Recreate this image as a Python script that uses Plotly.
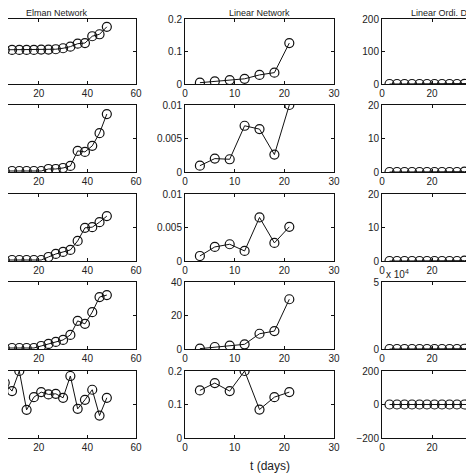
import plotly.graph_objects as go

W = H = 474
OFF = 8  # page body margin offset
x_left = [3, 6, 9, 12, 15, 18, 21, 24, 27, 30, 33, 36, 39, 42, 45, 48]
x_mid = [3, 6, 9, 12, 15, 18, 21]
x_right = [3, 6, 9, 12, 15, 18, 21, 24, 27, 30, 33, 36, 39, 42, 45, 48]

elman = [
    [1.05, 1.05, 1.05, 1.05, 1.05, 1.05, 1.06, 1.06, 1.07, 1.10, 1.15, 1.24, 1.26, 1.47, 1.53, 1.76],
    [0.03, 0.03, 0.03, 0.03, 0.03, 0.03, 0.03, 0.09, 0.09, 0.12, 0.18, 0.63, 0.60, 0.78, 1.16, 1.73],
    [0.03, 0.03, 0.03, 0.03, 0.03, 0.03, 0.03, 0.12, 0.21, 0.27, 0.33, 0.60, 0.99, 1.01, 1.16, 1.34],
    [0.03, 0.03, 0.03, 0.03, 0.03, 0.03, 0.09, 0.15, 0.21, 0.27, 0.42, 0.84, 0.75, 1.10, 1.55, 1.61],
    [1.30, 1.65, 1.40, 2.00, 0.84, 1.22, 1.37, 1.30, 1.32, 1.20, 1.85, 0.87, 1.14, 1.44, 0.67, 1.20],
]
linear = [
    [0.004, 0.008, 0.012, 0.016, 0.028, 0.035, 0.126],
    [0.00094, 0.0020, 0.0019, 0.0069, 0.0064, 0.0026, 0.0100],
    [0.00075, 0.0021, 0.0025, 0.0015, 0.0065, 0.0027, 0.0051],
    [0.2, 1.2, 2.0, 2.8, 9.1, 10.7, 29.7],
    [0.142, 0.164, 0.140, 0.200, 0.085, 0.122, 0.137],
]
ode = [
    [0, 0, 0, 0, 0, 0, 0, 0, 0, 0, 0.5, 1.5, 4, 10, 25, 60],
    [0, 0, 0, 0, 0, 0, 0, 0, 0, 0, 0.1, 0.4, 1, 2, 4, 8],
    [0, 0, 0, 0, 0, 0, 0, 0, 0, 0, 0.1, 0.4, 1, 2, 4, 8],
    [0, 0, 0, 0, 0, 0, 0, 0, 0, 0, 0.02, 0.1, 0.3, 0.8, 1.5, 3],
    [0, 0, 0, 0, 0, 0, 0, 0, 0, 0, 0, 0, 0, 0, 0, 0],
]
left_ranges = [[0, 2]] * 5
mid_ranges = [[0, 0.2], [0, 0.01], [0, 0.01], [0, 40], [0, 0.2]]
mid_dticks = [0.1, 0.005, 0.005, 20, 0.1]
right_ranges = [[0, 200], [0, 20], [0, 20], [0, 5], [-200, 200]]
right_dticks = [100, 10, 10, 5, 200]
titles = ["Elman Network", "Linear Network", "Linear Ordi. Diff. Eq."]

# screen pixel positions in the reference
rows_px = [(19, 84), (105, 172), (194, 261), (282, 349), (371, 438)]
cols_px = [(OFF, 136), (185, 334), (382, 474)]
FONT = dict(family="Liberation Sans, Arial", size=10, color="#222")


def px(v):
    return v - OFF


fig = go.Figure()
layout = {}
k = 0
for r, (yt, yb) in enumerate(rows_px):
    ydom = [1 - px(yb) / H, 1 - px(yt) / H]
    for c, (xl, xr) in enumerate(cols_px):
        k += 1
        xs = "" if k == 1 else str(k)
        xdom = [px(xl) / W, px(xr) / W]
        if c == 0:
            xv, yv = x_left, elman[r]
            ax = dict(range=[(OFF + 10) / 2.45, 60], dtick=20, tick0=0)
            ay = dict(range=left_ranges[r], side="right", showticklabels=False, dtick=1, mirror=False)
        elif c == 1:
            xv, yv = x_mid, linear[r]
            ax = dict(range=[0, 30], dtick=10)
            ay = dict(range=mid_ranges[r], dtick=mid_dticks[r], mirror="ticks")
        else:
            xv, yv = x_right, ode[r]
            ax = dict(range=[0, 36.8], dtick=20)
            ay = dict(range=right_ranges[r], dtick=right_dticks[r], mirror=False)
        fig.add_trace(go.Scatter(
            x=xv, y=yv, mode="lines+markers", xaxis="x" + xs, yaxis="y" + xs,
            line=dict(color="#111", width=1),
            marker=dict(symbol="circle-open", size=9, color="#111", line=dict(width=1.2)),
            showlegend=False))
        base = dict(showline=True, linecolor="#111", linewidth=1, ticks="inside",
                    ticklen=3, tickcolor="#111", showgrid=False, zeroline=False,
                    tickfont=FONT, automargin=False)
        layout["xaxis" + xs] = dict(base, domain=xdom, anchor="y" + xs, mirror="ticks", **ax)
        layout["yaxis" + xs] = dict(base, domain=ydom, anchor="x" + xs, **ay)


def ann(text, x, y, xanchor="center", size=10):
    return dict(text=text, x=px(x) / W, y=1 - px(y) / H, xref="paper", yref="paper",
                showarrow=False, xanchor=xanchor, yanchor="middle", font=dict(FONT, size=size))


annotations = [
    ann(titles[0], 57, 12.5, size=9),
    ann(titles[1], 260, 12.5, size=9),
    ann(titles[2], 409, 12.5, "left", size=9),
    ann("x 10<sup>4</sup>", 384, 274, "left"),
    ann("t (days)", 270, 466, size=12),
]
fig.update_layout(width=W, height=H, margin=dict(l=0, r=0, t=0, b=0),
                  paper_bgcolor="white", plot_bgcolor="white",
                  annotations=annotations, **layout)
fig.write_html("out.html")
